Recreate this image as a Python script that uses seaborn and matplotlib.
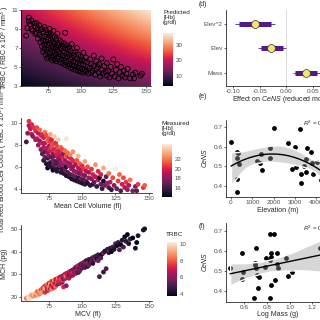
import numpy as np
import pandas as pd
import matplotlib
matplotlib.use("Agg")
import matplotlib.pyplot as plt
import seaborn as sns
from matplotlib.colors import Normalize
from matplotlib.cm import ScalarMappable

# ---- blood data, panels (a)-(c): mean cell volume, total RBC, MCH ----
mcv = [58, 59, 60, 60, 61, 62, 62, 63, 64, 65,
       65, 66, 66, 67, 67, 68, 68, 69, 69, 70, 70, 70,
       71, 71, 71, 72, 72, 72, 72, 73, 73, 73, 74, 74, 74, 74, 75, 75, 75, 75,
       76, 76, 76, 76, 77, 77, 77, 77, 78, 78, 78, 78, 79, 79, 79, 79, 80, 80, 80, 80,
       81, 81, 81, 81, 82, 82, 82, 82, 83, 83, 83, 84, 84, 84, 84, 85, 85, 85,
       86, 86, 86, 87, 87, 87, 88, 88, 88, 88, 89, 89, 89, 90, 90, 90,
       91, 91, 91, 92, 92, 92, 93, 93, 93, 94, 94, 94, 95, 95,
       96, 96, 96, 97, 97, 97, 98, 98, 98, 99, 99, 100, 100, 100,
       101, 101, 102, 102, 102, 103, 103, 104, 104, 105, 105, 106,
       107, 107, 108, 108, 109, 110, 110, 111, 112, 112, 113,
       114, 114, 115, 116, 116, 117, 118, 119, 120, 120,
       121, 122, 123, 124, 125, 126, 127, 128, 129, 130,
       131, 132, 133, 134, 135, 136, 138, 140, 141, 142, 146, 147]
trbc = [8.3, 9.1, 9.8, 10.2, 9.5, 9.9, 9.0, 8.8, 9.6, 9.3,
        8.5, 9.6, 8.6, 9.1, 8.0, 9.4, 8.4, 7.6, 8.9, 7.2, 8.2, 9.0,
        6.6, 7.8, 8.7, 6.9, 8.2, 7.4, 9.2, 6.3, 7.7, 8.9, 6.8, 7.3, 8.4, 5.9, 6.1, 7.0, 7.9, 8.6,
        6.4, 7.5, 8.3, 9.0, 6.0, 6.9, 7.8, 8.5, 5.7, 6.6, 7.2, 8.1, 6.2, 7.0, 7.6, 8.8, 5.8, 6.5, 7.4, 8.2,
        5.6, 6.3, 7.1, 7.9, 5.9, 6.8, 7.5, 8.5, 6.1, 6.6, 7.3, 5.5, 6.4, 7.0, 7.8, 5.8, 6.9, 7.6,
        5.4, 6.2, 7.2, 5.7, 6.6, 7.5, 5.2, 6.0, 7.0, 8.6, 5.5, 6.4, 7.3, 5.1, 6.1, 6.9,
        5.3, 6.3, 7.1, 4.9, 5.8, 6.7, 5.2, 6.0, 7.4, 4.8, 5.6, 6.5, 5.1, 6.2,
        4.7, 5.5, 6.6, 5.0, 5.9, 7.0, 4.6, 5.4, 6.3, 4.9, 5.7, 4.5, 5.3, 6.1,
        4.8, 5.8, 4.4, 5.2, 6.5, 4.7, 5.6, 4.5, 6.0, 5.0, 5.5, 4.3,
        4.9, 5.8, 4.4, 5.3, 4.6, 5.1, 6.2, 4.2, 4.8, 5.6, 5.0,
        4.4, 5.3, 4.0, 4.7, 5.9, 4.3, 5.1, 4.5, 4.1, 5.4,
        4.6, 3.9, 5.0, 4.3, 5.8, 4.0, 4.7, 5.3, 3.8, 4.4,
        5.0, 4.1, 4.6, 3.9, 4.3, 4.8, 3.8, 4.2, 3.8, 4.4, 4.1, 4.3]
mch = [19.5, 19.8, 19.2, 20.0, 20.5, 20.3, 21.0, 20.4, 21.2, 21.5,
       20.8, 21.8, 22.4, 21.0, 22.5, 22.9, 21.5, 23.0, 22.0, 22.8, 23.8, 22.3,
       23.5, 24.2, 22.6, 24.8, 23.0, 22.1, 24.0, 24.0, 25.2, 23.6, 22.9, 24.6, 25.5, 23.8, 25.0, 26.0, 23.4, 24.4,
       23.8, 26.4, 24.9, 25.8, 25.3, 24.1, 27.0, 23.5, 24.6, 26.7, 25.0, 26.1, 27.3, 24.3, 26.0, 27.5, 26.3, 25.1, 27.8, 24.7,
       27.0, 25.6, 28.0, 26.4, 25.9, 27.6, 26.8, 28.4, 28.5, 26.0, 27.2, 27.8, 29.0, 26.6, 28.0, 26.5, 28.9, 27.4,
       28.0, 29.5, 24.5, 30.0, 28.1, 29.3, 28.7, 25.0, 30.4, 29.0, 30.1, 28.6, 29.8, 29.4, 31.0, 28.3,
       30.5, 29.2, 31.3, 29.8, 31.6, 30.0, 31.9, 29.6, 30.8, 30.9, 32.3, 31.1, 33.0, 30.4,
       31.8, 33.4, 32.0, 30.8, 32.7, 33.8, 33.2, 31.4, 34.0, 34.5, 32.4, 32.9, 34.8, 33.3,
       33.6, 35.2, 34.9, 33.0, 35.5, 36.0, 34.2, 33.5, 35.0, 36.6, 34.0, 35.8,
       36.9, 35.3, 34.8, 37.4, 36.2, 38.0, 36.5, 37.0, 38.6, 36.0, 29.0,
       38.4, 37.2, 39.0, 31.0, 39.5, 40.2, 32.5, 41.0, 39.6, 40.5,
       41.5, 40.0, 42.0, 41.0, 43.5, 42.6, 44.0, 40.8, 43.0, 45.0,
       42.0, 46.5, 44.5, 47.5, 43.5, 45.5, 46.0, 41.5, 44.0, 47.0, 49.5, 50.0]

# ---- panel (d): coefficient estimates ----
terms = ["Elev^2", "Elev", "Mass"]
effect = [-0.059, -0.028, 0.037]
lo_inner = [-0.089, -0.048, 0.016]
hi_inner = [-0.029, -0.006, 0.057]
lo_outer = [-0.096, -0.053, 0.012]
hi_outer = [-0.021, -0.001, 0.063]

# ---- panel (e): CeNS vs elevation ----
elev = [0, 265, 313, 265, 374, 265, 295, 1230, 1355, 1390, 1465, 1855, 1855, 2010,
        2690, 2870, 3025, 3050, 3240, 3280, 3270, 3420, 3520, 3540, 3560, 3770,
        3830, 3870, 4020, 4250, 4480]
cens_elev = [0.621, 0.574, 0.566, 0.540, 0.512, 0.434, 0.369, 0.528, 0.515, 0.562,
             0.481, 0.594, 0.540, 0.692, 0.616, 0.485, 0.597, 0.499, 0.687, 0.462,
             0.417, 0.500, 0.537, 0.472, 0.593, 0.570, 0.515, 0.462, 0.520, 0.430,
             0.455]

# ---- panel (f): CeNS vs log mass ----
log_mass = [0.476, 0.585, 0.588, 0.580, 0.707, 0.692, 0.698, 0.707, 0.713, 0.727,
            0.683, 0.722, 0.787, 0.796, 0.825, 0.837, 0.837, 0.825, 0.860, 0.837,
            0.867, 0.825, 0.890, 0.890, 0.896, 0.964, 0.988, 1.024, 1.270]
cens_mass = [0.513, 0.588, 0.493, 0.458, 0.613, 0.538, 0.530, 0.517, 0.480, 0.472,
             0.367, 0.413, 0.522, 0.567, 0.555, 0.572, 0.588, 0.683, 0.685, 0.430,
             0.455, 0.363, 0.592, 0.535, 0.513, 0.563, 0.477, 0.497, 0.613]

# predicted Hb surface (model on MCV and TRBC, centred at 54 fl / 3 RBC)
hb_b0, hb_mcv, hb_trbc, hb_inter = 3.7, 0.093, 1.91, 0.0109

blood = pd.DataFrame({"MCV": mcv, "TRBC": trbc, "MCH": mch})
blood["Hb"] = blood["MCH"] * blood["TRBC"] / 10

sns.set_theme(style="ticks")
plt.rcParams["font.family"] = ["Liberation Sans", "DejaVu Sans"]
plt.rcParams.update({
    "mathtext.fontset": "custom",
    "mathtext.rm": "Liberation Sans",
    "mathtext.it": "Liberation Sans:italic",
    "axes.linewidth": 0.5,
    "axes.edgecolor": "black",
    "xtick.major.width": 0.5, "ytick.major.width": 0.5,
    "xtick.major.size": 1.5, "ytick.major.size": 1.5,
    "xtick.major.pad": 0.8, "ytick.major.pad": 0.8,
    "xtick.labelsize": 4.6, "ytick.labelsize": 4.6,
    "xtick.color": "#333333", "ytick.color": "#333333",
    "xtick.labelcolor": "#4d4d4d", "ytick.labelcolor": "#4d4d4d",
})

cmap = sns.color_palette("rocket", as_cmap=True)
W = H = 320
fig = plt.figure(figsize=(3.2, 3.2), dpi=100)


def frac(x0, y0, x1, y1):
    return [x0 / W, 1 - y1 / H, (x1 - x0) / W, (y1 - y0) / H]


def add_ax(x0, y0, x1, y1):
    ax = fig.add_axes(frac(x0, y0, x1, y1))
    sns.despine(ax=ax)
    return ax


def put(x, y, s, size=5.0, **kw):
    kw.setdefault("ha", "center")
    kw.setdefault("va", "center")
    fig.text(x / W, 1 - y / H, s, fontsize=size, **kw)


def add_cbar(x0, y0, x1, y1, norm, ticks):
    cax = fig.add_axes(frac(x0, y0, x1, y1))
    cb = fig.colorbar(ScalarMappable(norm=norm, cmap=cmap), cax=cax, ticks=ticks)
    cb.outline.set_visible(False)
    cax.tick_params(length=0, labelsize=4.4, pad=2.2, labelcolor="#4d4d4d")
    return cb


# (a) predicted Hb surface with observed points
ex = np.linspace(54, 154, 101)
ey = np.linspace(3, 11, 81)
cx, cy = (ex[:-1] + ex[1:]) / 2, (ey[:-1] + ey[1:]) / 2
gx, gy = np.meshgrid(cx, cy)
pred = hb_b0 + hb_mcv * (gx - 54) + hb_trbc * (gy - 3) + hb_inter * (gx - 54) * (gy - 3)
norm_pred = Normalize(3.7, 37.3)

ax = add_ax(21, 10, 151, 86)
ax.pcolormesh(ex, ey, pred, cmap=cmap, norm=norm_pred, shading="flat",
              edgecolors="none", zorder=0.5)
sns.scatterplot(data=blood, x="MCV", y="TRBC", ax=ax, facecolor="none", edgecolor="black",
                s=13, linewidth=0.6, legend=False, zorder=3)
ax.set_xlim(54, 154)
ax.set_ylim(3, 11)
ax.set_xticks([75, 100, 125, 150])
ax.set_yticks([3, 5, 7, 9, 11])
ax.set_xlabel("")
ax.set_ylabel("")
put(5, 48, r"TRBC ( RBC x 10$^6$ / mm$^3$ )", rotation=90)
add_cbar(163, 33, 173, 86, norm_pred, [10, 20, 30])
put(163, 10, "Predicted\n[Hb]\n(g/dl)", size=4.6, ha="left", va="top", linespacing=1.0)

# (b) measured Hb
ax = add_ax(21, 118, 152, 193)
norm_hb = Normalize(blood["Hb"].min(), blood["Hb"].max())
sns.scatterplot(data=blood, x="MCV", y="TRBC", hue="Hb", palette=cmap, hue_norm=norm_hb,
                ax=ax, s=12, linewidth=0, legend=False)
ax.set_xlim(54, 152.5)
ax.set_ylim(3.6, 10.5)
ax.set_xticks([75, 100, 125, 150])
ax.set_yticks([4, 6, 8, 10])
ax.set_xlabel("")
ax.set_ylabel("")
put(88, 207, "Mean Cell Volume (fl)")
put(3.5, 159, r"Total Red Blood Cell Count ( RBC x 10$^6$ / mm$^3$ )", rotation=90)
add_cbar(162, 144, 172, 197, norm_hb, [16, 18, 20, 22])
put(162, 121, "Measured\n[Hb]\n(g/dl)", size=4.6, ha="left", va="top", linespacing=1.0)

# (c) MCH vs MCV coloured by TRBC
ax = add_ax(21, 225, 152, 301)
norm_rbc = Normalize(blood["TRBC"].min(), blood["TRBC"].max())
sns.scatterplot(data=blood, x="MCV", y="MCH", hue="TRBC", palette=cmap, hue_norm=norm_rbc,
                ax=ax, s=12, linewidth=0, legend=False)
ax.set_xlim(54, 152.5)
ax.set_ylim(18.3, 51.7)
ax.set_xticks([75, 100, 125, 150])
ax.set_yticks([20, 30, 40, 50])
ax.set_xlabel("")
ax.set_ylabel("")
put(88, 314, "MCV (fl)")
put(5, 264, "MCH (pg)", rotation=90)
add_cbar(167, 242, 177, 296, norm_rbc, [4, 6, 8, 10])
put(166, 235, "TRBC", size=4.6, ha="left")

# (d) effect sizes
ax = add_ax(226, 10, 338, 86)
ypos = [3, 2, 1]
ax.axvline(0, color="#d4d4d4", lw=0.6, zorder=0)
ax.hlines(ypos, lo_outer, hi_outer, color="#6a3d9a", lw=0.7, zorder=1)
ax.hlines(ypos, lo_inner, hi_inner, color="#55198b", lw=3.6, zorder=2)
sns.scatterplot(x=effect, y=ypos, ax=ax, s=32, color="#f3e46c", edgecolor="#333333",
                linewidth=0.5, zorder=3, legend=False)
ax.set_xlim(-0.113, 0.097)
ax.set_ylim(0.45, 3.57)
ax.set_xticks([-0.10, -0.05, 0.00, 0.05])
ax.set_xticklabels(["-0.10", "-0.05", "0.00", "0.05"])
ax.set_yticks(ypos)
ax.set_yticklabels(terms)
put(232, 99.5, r"Effect on $\mathit{CeNS}$ (reduced model)", ha="left")

# (e) CeNS vs elevation, quadratic fit
ax = add_ax(226, 120, 331, 197)
sns.scatterplot(x=elev, y=cens_elev, ax=ax, color="black", s=12, linewidth=0, legend=False)
sns.regplot(x=elev, y=cens_elev, order=2, scatter=False, ax=ax, color="black",
            line_kws=dict(lw=1.0), seed=3)
band = ax.collections[-1]
band.set_alpha(None)
band.set_facecolor((0.6, 0.6, 0.6, 0.4))
ax.set_xlim(-234, 4700)
ax.set_ylim(0.345, 0.734)
ax.set_xticks([0, 1000, 2000, 3000, 4000])
ax.set_yticks([0.4, 0.5, 0.6, 0.7])
ax.set_xlabel("")
ax.set_ylabel("")
put(278, 210, "Elevation (m)")
put(205, 158, "CeNS", rotation=90, style="italic")
put(303, 123, r"$R^2$ = 0.12", size=4.6, ha="left")

# (f) CeNS vs log mass, linear fit
ax = add_ax(226, 223, 331, 302)
sns.scatterplot(x=log_mass, y=cens_mass, ax=ax, color="black", s=12, linewidth=0, legend=False)
sns.regplot(x=log_mass, y=cens_mass, scatter=False, ax=ax, color="black",
            line_kws=dict(lw=1.0), seed=3)
band = ax.collections[-1]
band.set_alpha(None)
band.set_facecolor((0.6, 0.6, 0.6, 0.4))
ax.set_xlim(0.44, 1.364)
ax.set_ylim(0.345, 0.74)
ax.set_xticks([0.6, 0.8, 1.0, 1.2])
ax.set_yticks([0.4, 0.5, 0.6, 0.7])
ax.set_xlabel("")
ax.set_ylabel("")
put(278, 315, "Log Mass (g)")
put(205, 262, "CeNS", rotation=90, style="italic")
put(303, 228, r"$R^2$ = 0.05", size=4.6, ha="left")

# panel letters on the right-hand column
put(199, 4, "(d)", size=5, ha="left")
put(199, 97, "(e)", size=5, ha="left")
put(199, 226, "(f)", size=5, ha="left")

fig.savefig("out.png", dpi=100)
